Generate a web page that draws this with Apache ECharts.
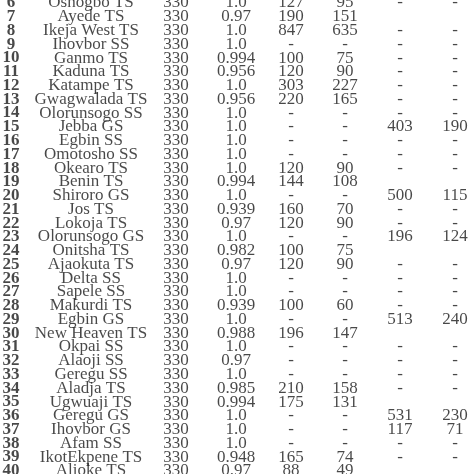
<!DOCTYPE html><html><head><meta charset="utf-8"><script src="https://cdn.jsdelivr.net/npm/echarts@6/dist/echarts.min.js"></script>
<style>html,body{margin:0;background:#fff}#c{width:474px;height:474px}</style></head><body><div id="c"></div><script>
const rowNo=[6,7,8,9,10,11,12,13,14,15,16,17,18,19,20,21,22,23,24,25,26,27,28,29,30,31,32,33,34,35,36,37,38,39,40];
const names=["Oshogbo TS","Ayede TS","Ikeja West TS","Ihovbor SS","Ganmo TS","Kaduna TS","Katampe TS","Gwagwalada TS","Olorunsogo SS","Jebba GS","Egbin SS","Omotosho SS","Okearo TS","Benin TS","Shiroro GS","Jos TS","Lokoja TS","Olorunsogo GS","Onitsha TS","Ajaokuta TS","Delta SS","Sapele SS","Makurdi TS","Egbin GS","New Heaven TS","Okpai SS","Alaoji SS","Geregu SS","Aladja TS","Ugwuaji TS","Geregu GS","Ihovbor GS","Afam SS","IkotEkpene TS","Alioke TS"];
const kv=Array(35).fill("330");
const pu=["1.0","0.97","1.0","1.0","0.994","0.956","1.0","0.956","1.0","1.0","1.0","1.0","1.0","0.994","1.0","0.939","0.97","1.0","0.982","0.97","1.0","1.0","0.939","1.0","0.988","1.0","0.97","1.0","0.985","0.994","1.0","1.0","1.0","0.948","0.97"];
const pLoad=["127","190","847","-","100","120","303","220","-","-","-","-","120","144","-","160","120","-","100","120","-","-","100","-","196","-","-","-","210","175","-","-","-","165","88"];
const qLoad=["95","151","635","-","75","90","227","165","-","-","-","-","90","108","-","70","90","-","75","90","-","-","60","-","147","-","-","-","158","131","-","-","-","74","49"];
const pGen=["-","","-","-","-","-","-","-","-","403","-","-","-","","500","-","-","196","","-","-","-","-","513","","-","-","-","-","","531","117","-","-",""];
const qGen=["-","","-","-","-","-","-","-","-","190","-","-","-","","115","-","-","124","","-","-","-","-","240","","-","-","-","-","","230","71","-","-",""];
const cols=[[rowNo,11,true],[names,91],[kv,176],[pu,236],[pLoad,291],[qLoad,345],[pGen,400],[qGen,455]];
const series=cols.map(([arr,x,bold])=>({type:'scatter',symbolSize:0,clip:false,silent:true,
 data:arr.map((t,i)=>[x,i,String(t)]),
 label:{show:true,position:'inside',formatter:p=>p.data[2],color:'#1a1a1a',fontFamily:'Liberation Serif',fontSize:17,fontWeight:bold?'bold':'normal'}}));
const step=13.76, y0=3;
echarts.init(document.getElementById('c')).setOption({animation:false,
 grid:{left:0,right:0,top:0,bottom:0},
 xAxis:{type:'value',min:0,max:474,show:false},
 yAxis:{type:'value',inverse:true,min:-y0/step,max:(474-y0)/step,show:false},
 series});
</script></body></html>
